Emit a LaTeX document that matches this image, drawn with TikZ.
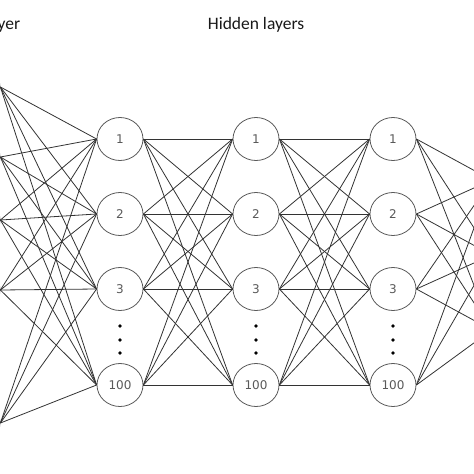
\documentclass[tikz,border=0pt]{standalone}
\usepackage{fontspec}
\setsansfont{DejaVu Sans}
\newfontfamily\titlefont{Carlito}
\usetikzlibrary{shapes.geometric}
\tikzset{%
  net/.style = {
    x=1pt, y=-1pt, line width=0.8pt, black!80,
    every node/.style = {font=\sffamily\fontsize{12}{14}\selectfont, text=black!90},
    neuron/.style = {ellipse, draw, black!65, minimum width=46pt,
      minimum height=43pt, inner sep=0pt},
    dot/.style = {circle, fill=black, inner sep=0pt, minimum size=3.8pt},
    title/.style = {font=\titlefont\fontsize{17.5}{19}\selectfont, anchor=base}
  }
}

\begin{document}
\begin{tikzpicture}[net]
  \useasboundingbox (0,0) rectangle (474,474);
  \clip (0,0) rectangle (474,474);
  \node[title] (hidden) at (256,29) {Hidden layers};
  \node[title, anchor=base east] (input) at (24,29) {Input layer};
  % input layer (off the left edge)
  \foreach \i/\y in {1/87, 2/157, 3/220, 4/290, 5/423}
    \node[neuron] (in\i) at (-23,\y) {};
  % hidden layers
  \foreach \l/\x in {1/120, 2/256, 3/393} {
    \foreach \n/\y/\t in {1/139/1, 2/214/2, 3/289/3, 4/385/100}
      \node[neuron] (h\l\n) at (\x,\y) {\t};
    \foreach \d/\y in {1/326, 2/340, 3/353}
      \node[dot] (d\l\d) at (\x,\y) {};
  }
  % output layer (off the right edge)
  \foreach \o/\y in {1/180, 2/255, 3/330}
    \node[neuron] (out\o) at (515,\y) {};
  % connections
  \foreach \i in {1,...,5}
    \foreach \n in {1,...,4}
      \draw (in\i.east) -- (h1\n.west);
  \foreach \a/\b in {1/2, 2/3}
    \foreach \n in {1,...,4}
      \foreach \m in {1,...,4}
        \draw (h\a\n.east) -- (h\b\m.west);
  \foreach \n in {1,...,4}
    \foreach \o in {1,...,3}
      \draw (h3\n.east) -- (out\o.west);
\end{tikzpicture}
\end{document}
